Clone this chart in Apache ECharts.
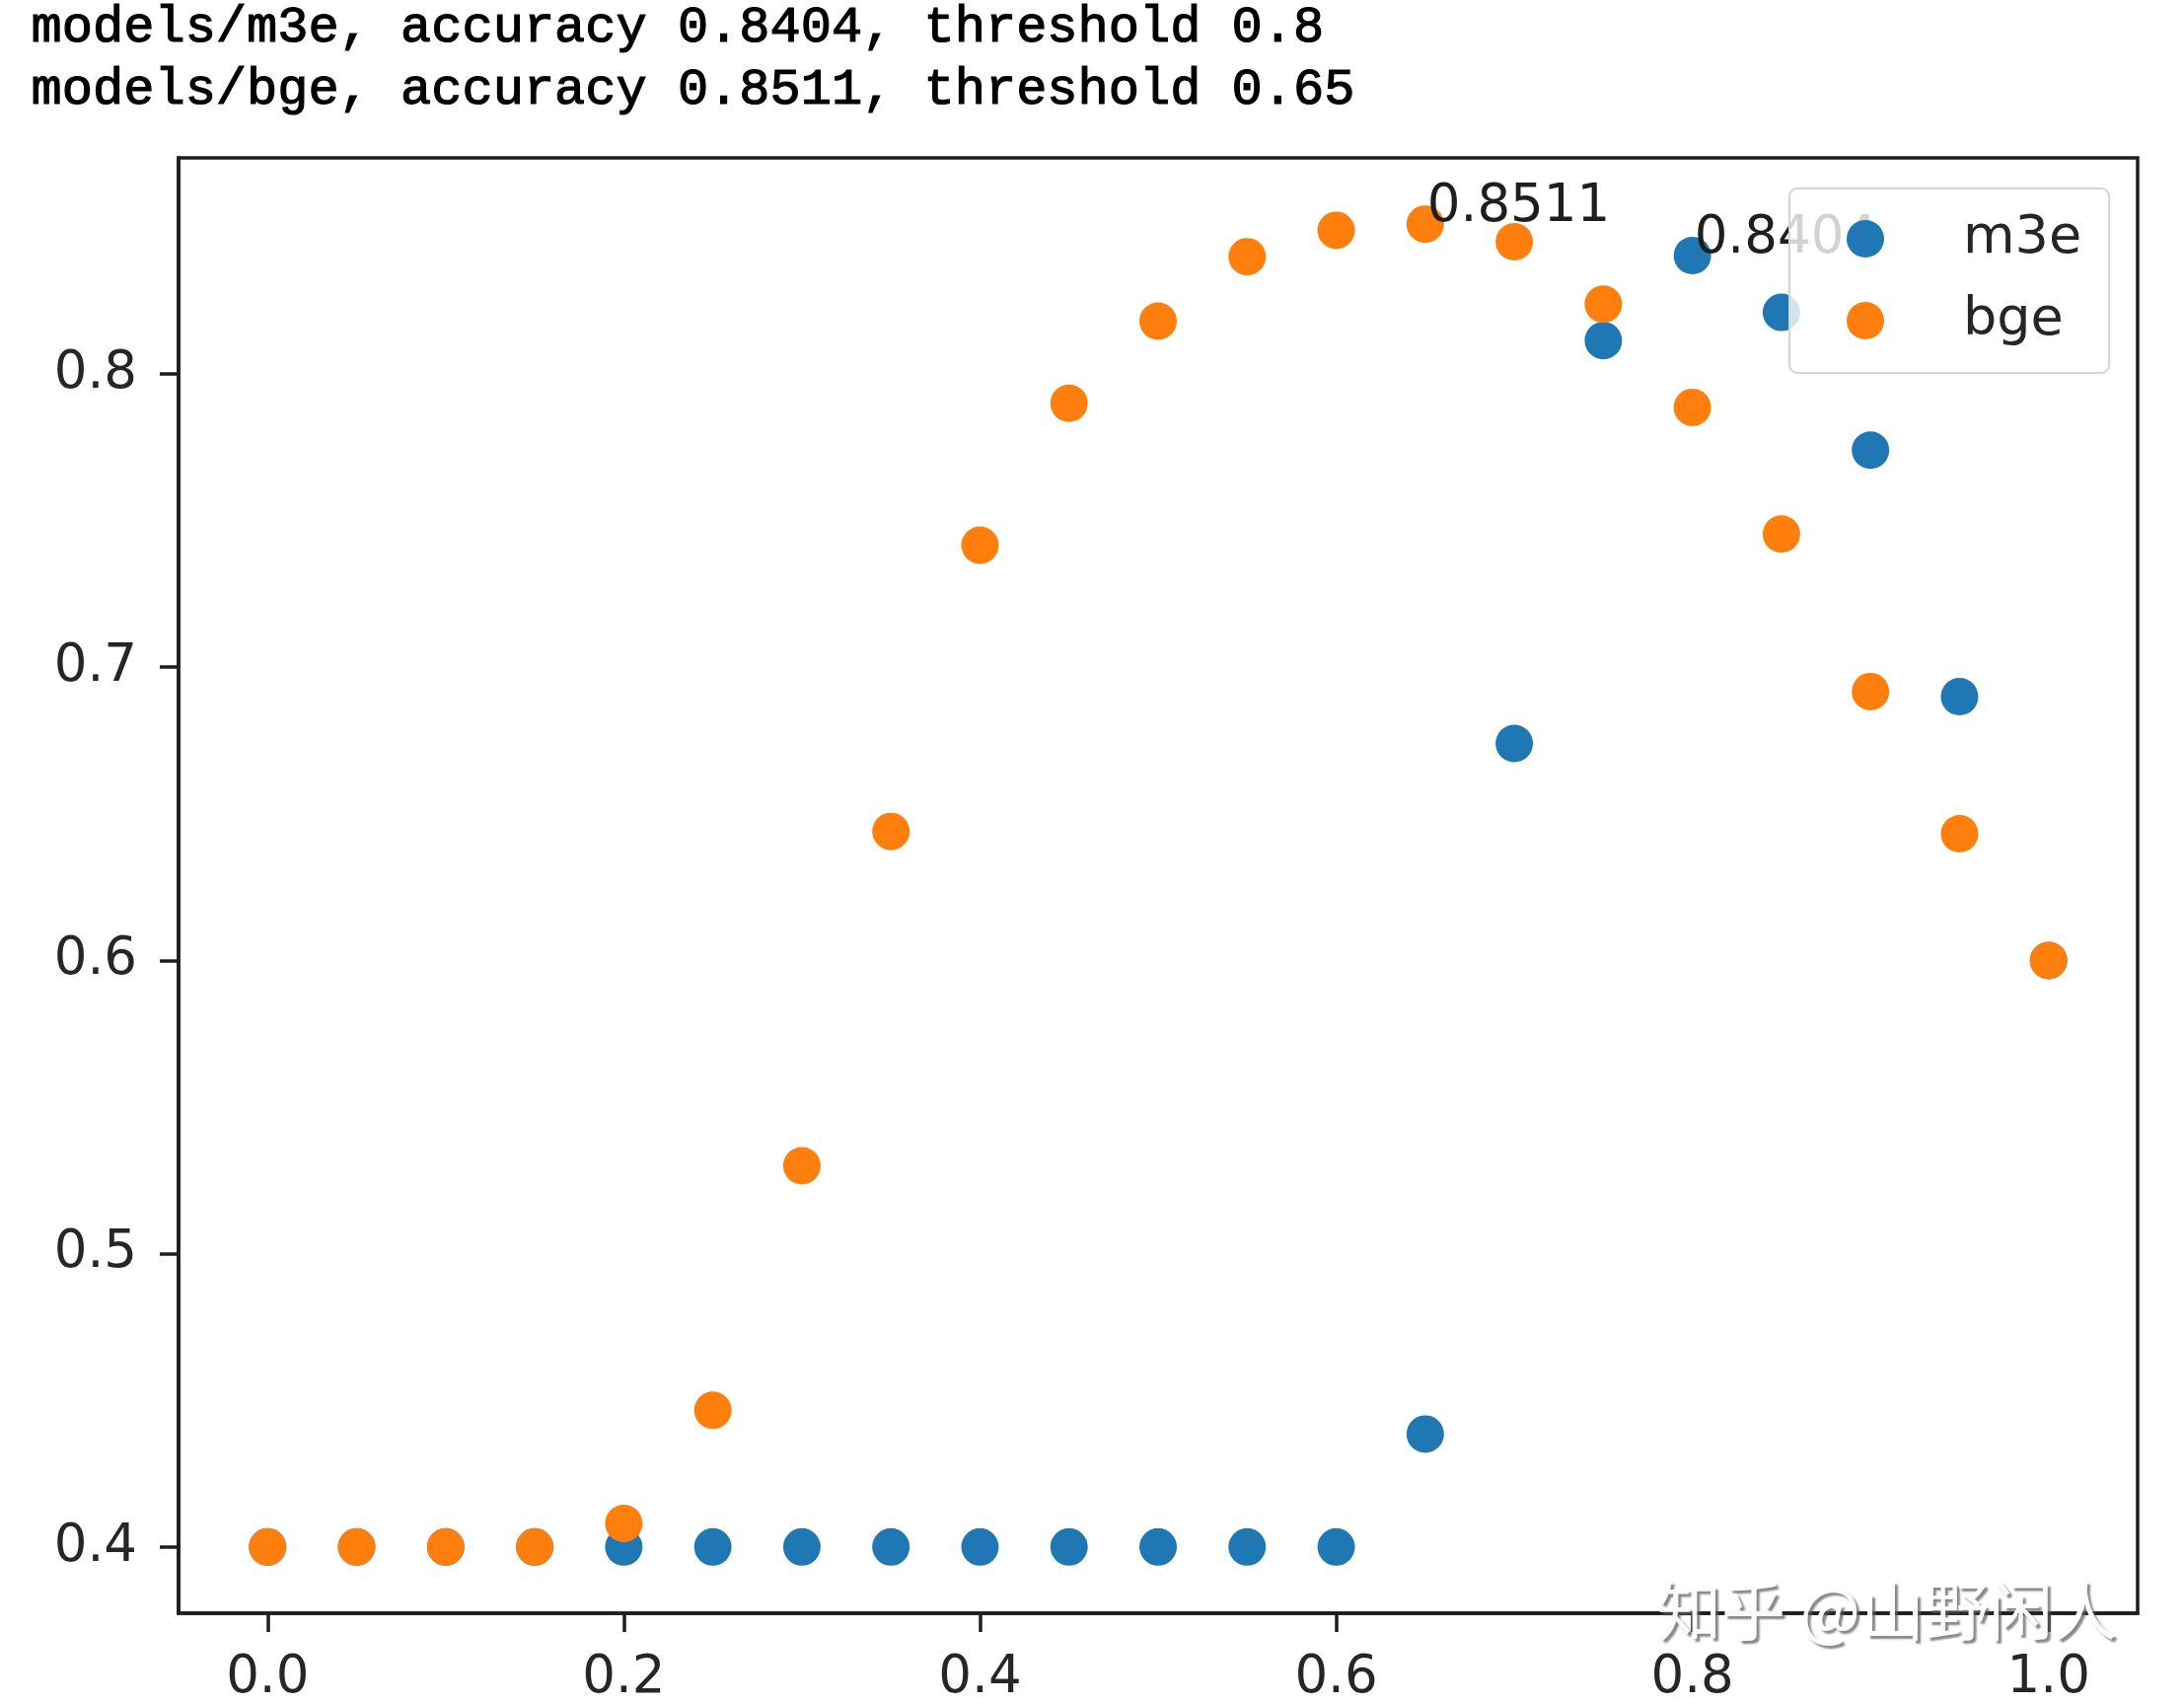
<!DOCTYPE html>
<html>
<head>
<meta charset="utf-8">
<script src="https://cdn.jsdelivr.net/npm/echarts@6/dist/echarts.min.js"></script>
<style>
  html, body { margin: 0; padding: 0; background: #fff; }
  #chart { width: 2214px; height: 1728px; }
</style>
</head>
<body>
<div id="chart"></div>
<script>
// ---- data ----
const thresholds = [0.0, 0.05, 0.1, 0.15, 0.2, 0.25, 0.3, 0.35, 0.4, 0.45, 0.5,
                    0.55, 0.6, 0.65, 0.7, 0.75, 0.8, 0.85, 0.9, 0.95, 1.0];
const m3eAcc = [0.4, 0.4, 0.4, 0.4, 0.4, 0.4, 0.4, 0.4, 0.4, 0.4, 0.4,
                0.4, 0.4, 0.4385, 0.674, 0.8114, 0.8404, 0.821, 0.774, 0.690, 0.6];
const bgeAcc = [0.4, 0.4, 0.4, 0.4, 0.408, 0.4466, 0.530, 0.644, 0.7416, 0.790, 0.818,
                0.840, 0.849, 0.8511, 0.8451, 0.8238, 0.7886, 0.7454, 0.6917, 0.6432, 0.6];
const seriesNames = ['m3e', 'bge'];
const best = { m3e: { x: 0.8, acc: 0.8404 }, bge: { x: 0.65, acc: 0.8511 } };
const headerLines = [
  'models/m3e, accuracy 0.8404, threshold 0.8',
  'models/bge, accuracy 0.8511, threshold 0.65'
];
const xTicks = [0.0, 0.2, 0.4, 0.6, 0.8, 1.0];
const yTicks = [0.4, 0.5, 0.6, 0.7, 0.8];
const watermark = '知乎 @山野闲人';

// ---- chart ----
const chart = echarts.init(document.getElementById('chart'), null, { renderer: 'canvas' });
const FONT = "'DejaVu Sans', sans-serif";
const AX = '#1e1e1e';

function buildData(xs, ys, bestPt) {
  return xs.map((x, i) => {
    const item = { value: [x, ys[i]] };
    if (Math.abs(x - bestPt.x) < 1e-9) {
      item.label = {
        show: true,
        formatter: String(bestPt.acc.toFixed(4)),
        position: [21, 28],
        align: 'left',
        verticalAlign: 'bottom',
        fontSize: 53,
        lineHeight: 52,
        fontFamily: FONT,
        color: '#1e1e1e'
      };
    }
    return item;
  });
}

const option = {
  backgroundColor: '#fff',
  animation: false,
  grid: {
    left: 181, right: 47, top: 160, bottom: 90,
    show: true, borderColor: AX, borderWidth: 3.5, backgroundColor: 'transparent'
  },
  xAxis: {
    type: 'value', min: -0.05, max: 1.05,
    splitLine: { show: false },
    axisLine: { show: true, onZero: false, lineStyle: { color: AX, width: 3.5 } },
    axisTick: { show: true, customValues: xTicks, length: 19, lineStyle: { color: AX, width: 3.5 } },
    axisLabel: {
      customValues: xTicks, margin: 40,
      formatter: v => Number(v).toFixed(1),
      fontSize: 53, fontFamily: FONT, color: '#262626'
    }
  },
  yAxis: {
    type: 'value', min: 0.3774, max: 0.8737,
    splitLine: { show: false },
    axisLine: { show: true, onZero: false, lineStyle: { color: AX, width: 3.5 } },
    axisTick: { show: true, customValues: yTicks, length: 19, lineStyle: { color: AX, width: 3.5 } },
    axisLabel: {
      customValues: yTicks, margin: 42,
      formatter: v => Number(v).toFixed(1),
      fontSize: 53, fontFamily: FONT, color: '#262626'
    }
  },
  legend: {
    show: true,
    orient: 'vertical',
    left: 1814, top: 191,
    padding: [24, 28, 26, 58],
    itemWidth: 76, itemHeight: 38, itemGap: 29,
    icon: 'circle',
    backgroundColor: 'rgba(255,255,255,0.8)',
    borderColor: '#d4d4d4', borderWidth: 2, borderRadius: 8,
    textStyle: { fontSize: 54, lineHeight: 52, fontFamily: FONT, color: '#262626', padding: [0, 0, 0, 56] },
    data: seriesNames,
    z: 10
  },
  series: [
    {
      name: seriesNames[0], type: 'scatter', symbol: 'circle', symbolSize: 38,
      itemStyle: { color: '#1f77b4', opacity: 1 },
      data: buildData(thresholds, m3eAcc, best.m3e), z: 2
    },
    {
      name: seriesNames[1], type: 'scatter', symbol: 'circle', symbolSize: 38,
      itemStyle: { color: '#ff7f0e', opacity: 1 },
      data: buildData(thresholds, bgeAcc, best.bge), z: 3
    }
  ],
  graphic: [
    {
      type: 'text', left: 31, top: 2, z: 20,
      style: { text: headerLines[0], font: "52px 'Liberation Mono', monospace", fill: '#000',
               stroke: '#000', lineWidth: 1.2 }
    },
    {
      type: 'text', left: 31, top: 65, z: 20,
      style: { text: headerLines[1], font: "52px 'Liberation Mono', monospace", fill: '#000',
               stroke: '#000', lineWidth: 1.2 }
    },
    {
      type: 'text', left: 1680, top: 1600, z: 30,
      style: {
        text: watermark,
        font: "65px 'Noto Sans CJK SC', sans-serif",
        fill: 'rgba(255,255,255,0.97)',
        textShadowColor: 'rgba(90,90,90,0.75)',
        textShadowBlur: 2,
        textShadowOffsetX: 3,
        textShadowOffsetY: 3
      }
    }
  ]
};
chart.setOption(option);
</script>
</body>
</html>
